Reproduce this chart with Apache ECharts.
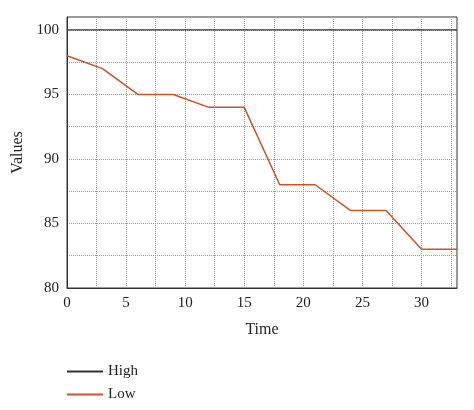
<!DOCTYPE html><html><head><meta charset="utf-8">
<script src="https://cdn.jsdelivr.net/npm/echarts@6/dist/echarts.min.js"></script>
<style>html,body{margin:0;padding:0;background:#fff}#c{width:474px;height:410px}</style></head><body><div id="c"></div>
<script>
const timeX = [0,3,6,9,12,15,18,21,24,27,30,33];
const low = [98,97,95,95,94,94,88,88,86,86,83,83];
const high = [100,100,100,100,100,100,100,100,100,100,100,100];
const F = 'Liberation Serif';
const fmt = v => (Math.abs(v % 5) < 1e-9 ? String(v) : '');
const c = echarts.init(document.getElementById('c'));
c.setOption({
  animation:false,
  grid:{left:67,right:17,top:17,bottom:122,show:true,borderColor:'#333',borderWidth:1},
  legend:{orient:'vertical',left:62,top:359,itemWidth:36,itemHeight:2,itemGap:8,icon:'rect',
    textStyle:{fontFamily:F,fontSize:15,color:'#222'},data:['High','Low']},
  xAxis:{type:'value',min:0,max:33,interval:2.5,name:'Time',nameLocation:'middle',nameGap:34,
    nameTextStyle:{fontFamily:F,fontSize:16,color:'#222'},
    axisLine:{lineStyle:{color:'#333'}},axisTick:{show:false},
    axisLabel:{formatter:fmt,fontFamily:F,fontSize:15,color:'#222',showMaxLabel:false},
    splitLine:{show:true,lineStyle:{type:'dotted',color:'#999'}}},
  yAxis:{type:'value',min:80,max:101,interval:2.5,name:'Values',nameLocation:'middle',nameGap:36,
    nameTextStyle:{fontFamily:F,fontSize:16,color:'#222'},
    axisLine:{lineStyle:{color:'#333'}},axisTick:{show:false},
    axisLabel:{formatter:fmt,fontFamily:F,fontSize:15,color:'#222',showMaxLabel:false},
    splitLine:{show:true,lineStyle:{type:'dotted',color:'#999'}}},
  series:[
    {name:'High',type:'line',data:timeX.map((x,i)=>[x,high[i]]),symbol:'none',lineStyle:{color:'#333',width:1.2},itemStyle:{color:'#333'}},
    {name:'Low',type:'line',data:timeX.map((x,i)=>[x,low[i]]),symbol:'none',lineStyle:{color:'#c9532a',width:1.5},itemStyle:{color:'#c9532a'}}
  ]
});
</script></body></html>
